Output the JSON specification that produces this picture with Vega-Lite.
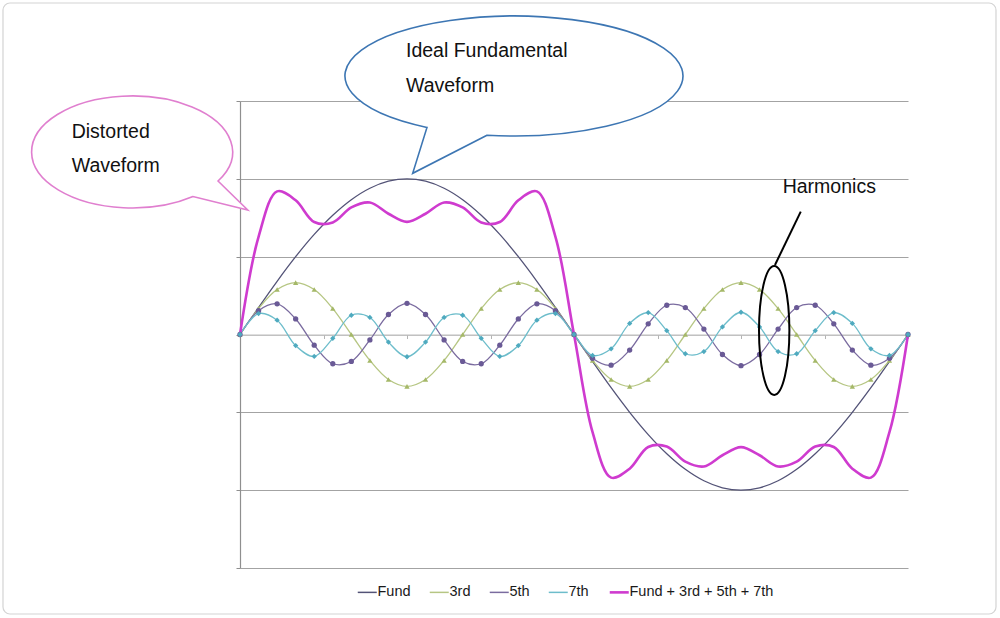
{
  "$schema": "https://vega.github.io/schema/vega-lite/v6.json",
  "description": "Fundamental, 3rd, 5th and 7th harmonics and their sum (distorted waveform).",
  "width": 668,
  "height": 467,
  "autosize": "none",
  "padding": {"left": 240, "top": 101, "right": 92, "bottom": 50},
  "background": "white",
  "config": {
    "view": {"stroke": null},
    "font": "Liberation Sans",
    "legend": {
      "orient": "none",
      "legendX": 120,
      "legendY": 484,
      "direction": "horizontal",
      "title": null,
      "symbolType": "stroke",
      "symbolSize": 361,
      "labelFontSize": 14.5,
      "labelFont": "Liberation Sans",
      "labelColor": "#1a1a1a",
      "labelOffset": 3,
      "columnPadding": 15,
      "padding": 0
    }
  },
  "data": {
    "values": [
      {"deg": 0, "Fund": 0, "3rd": 0, "5th": 0, "7th": 0, "Sum": 0},
      {"deg": 10, "Fund": 0.3473, "3rd": 0.3333, "5th": 0.3064, "7th": 0.2685, "Sum": 1.2555},
      {"deg": 20, "Fund": 0.684, "3rd": 0.5774, "5th": 0.3939, "7th": 0.1837, "Sum": 1.839},
      {"deg": 30, "Fund": 1, "3rd": 0.6667, "5th": 0.2, "7th": -0.1429, "Sum": 1.7238},
      {"deg": 40, "Fund": 1.2856, "3rd": 0.5774, "5th": -0.1368, "7th": -0.2814, "Sum": 1.4448},
      {"deg": 50, "Fund": 1.5321, "3rd": 0.3333, "5th": -0.3759, "7th": -0.0496, "Sum": 1.4399},
      {"deg": 60, "Fund": 1.7321, "3rd": 0, "5th": -0.3464, "7th": 0.2474, "Sum": 1.6331},
      {"deg": 70, "Fund": 1.8794, "3rd": -0.3333, "5th": -0.0695, "7th": 0.2189, "Sum": 1.6955},
      {"deg": 80, "Fund": 1.9696, "3rd": -0.5774, "5th": 0.2571, "7th": -0.0977, "Sum": 1.5516},
      {"deg": 90, "Fund": 2, "3rd": -0.6667, "5th": 0.4, "7th": -0.2857, "Sum": 1.4476},
      {"deg": 100, "Fund": 1.9696, "3rd": -0.5774, "5th": 0.2571, "7th": -0.0977, "Sum": 1.5516},
      {"deg": 110, "Fund": 1.8794, "3rd": -0.3333, "5th": -0.0695, "7th": 0.2189, "Sum": 1.6955},
      {"deg": 120, "Fund": 1.7321, "3rd": 0, "5th": -0.3464, "7th": 0.2474, "Sum": 1.6331},
      {"deg": 130, "Fund": 1.5321, "3rd": 0.3333, "5th": -0.3759, "7th": -0.0496, "Sum": 1.4399},
      {"deg": 140, "Fund": 1.2856, "3rd": 0.5774, "5th": -0.1368, "7th": -0.2814, "Sum": 1.4448},
      {"deg": 150, "Fund": 1, "3rd": 0.6667, "5th": 0.2, "7th": -0.1429, "Sum": 1.7238},
      {"deg": 160, "Fund": 0.684, "3rd": 0.5774, "5th": 0.3939, "7th": 0.1837, "Sum": 1.839},
      {"deg": 170, "Fund": 0.3473, "3rd": 0.3333, "5th": 0.3064, "7th": 0.2685, "Sum": 1.2555},
      {"deg": 180, "Fund": 0, "3rd": 0, "5th": 0, "7th": 0, "Sum": 0},
      {"deg": 190, "Fund": -0.3473, "3rd": -0.3333, "5th": -0.3064, "7th": -0.2685, "Sum": -1.2555},
      {"deg": 200, "Fund": -0.684, "3rd": -0.5774, "5th": -0.3939, "7th": -0.1837, "Sum": -1.839},
      {"deg": 210, "Fund": -1, "3rd": -0.6667, "5th": -0.2, "7th": 0.1429, "Sum": -1.7238},
      {"deg": 220, "Fund": -1.2856, "3rd": -0.5774, "5th": 0.1368, "7th": 0.2814, "Sum": -1.4448},
      {"deg": 230, "Fund": -1.5321, "3rd": -0.3333, "5th": 0.3759, "7th": 0.0496, "Sum": -1.4399},
      {"deg": 240, "Fund": -1.7321, "3rd": 0, "5th": 0.3464, "7th": -0.2474, "Sum": -1.6331},
      {"deg": 250, "Fund": -1.8794, "3rd": 0.3333, "5th": 0.0695, "7th": -0.2189, "Sum": -1.6955},
      {"deg": 260, "Fund": -1.9696, "3rd": 0.5774, "5th": -0.2571, "7th": 0.0977, "Sum": -1.5516},
      {"deg": 270, "Fund": -2, "3rd": 0.6667, "5th": -0.4, "7th": 0.2857, "Sum": -1.4476},
      {"deg": 280, "Fund": -1.9696, "3rd": 0.5774, "5th": -0.2571, "7th": 0.0977, "Sum": -1.5516},
      {"deg": 290, "Fund": -1.8794, "3rd": 0.3333, "5th": 0.0695, "7th": -0.2189, "Sum": -1.6955},
      {"deg": 300, "Fund": -1.7321, "3rd": 0, "5th": 0.3464, "7th": -0.2474, "Sum": -1.6331},
      {"deg": 310, "Fund": -1.5321, "3rd": -0.3333, "5th": 0.3759, "7th": 0.0496, "Sum": -1.4399},
      {"deg": 320, "Fund": -1.2856, "3rd": -0.5774, "5th": 0.1368, "7th": 0.2814, "Sum": -1.4448},
      {"deg": 330, "Fund": -1, "3rd": -0.6667, "5th": -0.2, "7th": 0.1429, "Sum": -1.7238},
      {"deg": 340, "Fund": -0.684, "3rd": -0.5774, "5th": -0.3939, "7th": -0.1837, "Sum": -1.839},
      {"deg": 350, "Fund": -0.3473, "3rd": -0.3333, "5th": -0.3064, "7th": -0.2685, "Sum": -1.2555},
      {"deg": 360, "Fund": 0, "3rd": 0, "5th": 0, "7th": 0, "Sum": 0}
    ]
  },
  "layer": [
    {
      "data": {"values": [{"x": -127.73, "x2": 407.42, "y": 4.259, "y2": -3.591}]},
      "mark": {"type": "rect", "filled": false, "stroke": "#d4d4d4", "strokeWidth": 1.2, "cornerRadius": 7},
      "encoding": {
        "x": {"field": "x", "type": "quantitative"},
        "x2": {"field": "x2"},
        "y": {"field": "y", "type": "quantitative"},
        "y2": {"field": "y2"}
      }
    },
    {
      "transform": [
        {"fold": ["Fund", "3rd", "5th", "7th", "Sum"], "as": ["series", "value"]}
      ],
      "mark": {"type": "line", "interpolate": "catmull-rom"},
      "encoding": {
        "x": {
          "field": "deg",
          "type": "quantitative",
          "scale": {"domain": [0, 360], "nice": false, "zero": false},
          "axis": {
            "title": null,
            "orient": "bottom",
            "offset": -233.5,
            "values": [0, 45, 90, 135, 180, 225, 270, 315, 360],
            "labels": false,
            "grid": false,
            "tickSize": 4,
            "tickColor": "#b4b4b4",
            "domainColor": "#bdbdbd",
            "domainWidth": 1.2
          }
        },
        "y": {
          "field": "value",
          "type": "quantitative",
          "scale": {"domain": [-3, 3], "nice": false, "zero": false},
          "axis": {
            "title": null,
            "values": [-3, -2, -1, 0, 1, 2, 3],
            "labels": false,
            "grid": true,
            "gridColor": {"condition": {"test": "datum.value === 0", "value": "#c4c4c4"}, "value": "#a3a3a3"},
            "gridWidth": 1.2,
            "tickSize": 4,
            "tickColor": "#8f8f8f",
            "domainColor": "#8f8f8f",
            "domainWidth": 1.2
          }
        },
        "color": {
          "field": "series",
          "type": "nominal",
          "scale": {
            "domain": ["Fund", "3rd", "5th", "7th", "Sum"],
            "range": ["#535377", "#b6c683", "#7a6b9f", "#6dbdcb", "#cf3bcf"]
          },
          "legend": {
            "labelExpr": "datum.label == 'Sum' ? 'Fund + 3rd + 5th + 7th' : datum.label",
            "encode": {
              "symbols": {
                "update": {"strokeWidth": {"signal": "datum.value === 'Sum' ? 2.6 : 1.5"}}
              }
            }
          }
        },
        "strokeWidth": {
          "condition": {"test": "datum.series === 'Sum'", "value": 2.6},
          "value": 1.3
        }
      }
    },
    {
      "transform": [
        {"fold": ["3rd", "5th", "7th"], "as": ["series", "value"]}
      ],
      "mark": {"type": "point", "filled": true, "size": 28, "opacity": 1, "strokeWidth": 0},
      "encoding": {
        "x": {"field": "deg", "type": "quantitative"},
        "y": {"field": "value", "type": "quantitative"},
        "fill": {
          "field": "series",
          "type": "nominal",
          "scale": {"domain": ["3rd", "5th", "7th"], "range": ["#a5b868", "#6a5a96", "#4faabf"]},
          "legend": null
        },
        "shape": {
          "field": "series",
          "type": "nominal",
          "scale": {"domain": ["3rd", "5th", "7th"], "range": ["triangle-up", "circle", "diamond"]},
          "legend": null
        }
      }
    },
    {
      "data": {"values": [{"x": 147.66, "y": 3.321}]},
      "mark": {
        "type": "point",
        "shape": "M-0.1588,0.3482L-0.5959,0.5724L-0.5118,0.3024A0.9941,0.3529,0,1,1,-0.1588,0.3482Z",
        "size": 115600,
        "filled": true,
        "fill": "white",
        "stroke": "#3d76b3",
        "strokeWidth": 1.6,
        "opacity": 1
      },
      "encoding": {
        "x": {"field": "x", "type": "quantitative"},
        "y": {"field": "y", "type": "quantitative"}
      }
    },
    {
      "data": {"values": [{"x": -58.2, "y": 2.345}]},
      "mark": {
        "type": "point",
        "shape": "M0.7167,0.2417L0.9642,0.4833L0.5083,0.3708A0.8375,0.4667,0,1,1,0.7167,0.2417Z",
        "size": 57600,
        "filled": true,
        "fill": "white",
        "stroke": "#e07fcf",
        "strokeWidth": 1.6,
        "opacity": 1
      },
      "encoding": {
        "x": {"field": "x", "type": "quantitative"},
        "y": {"field": "y", "type": "quantitative"}
      }
    },
    {
      "data": {"values": [{"x": 287.89, "y": 0.0513}]},
      "mark": {
        "type": "point",
        "shape": "M-0.217,0A0.217,0.921,0,1,1,0.217,0A0.217,0.921,0,1,1,-0.217,0Z",
        "size": 19600,
        "filled": false,
        "stroke": "black",
        "strokeWidth": 2,
        "opacity": 1
      },
      "encoding": {
        "x": {"field": "x", "type": "quantitative"},
        "y": {"field": "y", "type": "quantitative"}
      }
    },
    {
      "data": {"values": [{"x": 288.3, "y": 0.893, "x2": 302.2, "y2": 1.578}]},
      "mark": {"type": "rule", "color": "black", "strokeWidth": 2},
      "encoding": {
        "x": {"field": "x", "type": "quantitative"},
        "y": {"field": "y", "type": "quantitative"},
        "x2": {"field": "x2"},
        "y2": {"field": "y2"}
      }
    },
    {
      "data": {
        "values": [
          {"x": 89.46, "y": 3.569, "label": "Ideal Fundamental"},
          {"x": 89.46, "y": 3.119, "label": "Waveform"},
          {"x": -90.7, "y": 2.528, "label": "Distorted"},
          {"x": -90.7, "y": 2.092, "label": "Waveform"},
          {"x": 292.47, "y": 1.822, "label": "Harmonics"}
        ]
      },
      "mark": {
        "type": "text",
        "align": "left",
        "baseline": "alphabetic",
        "font": "Liberation Sans",
        "fontSize": 19.5,
        "color": "#111111"
      },
      "encoding": {
        "x": {"field": "x", "type": "quantitative"},
        "y": {"field": "y", "type": "quantitative"},
        "text": {"field": "label"}
      }
    }
  ]
}
